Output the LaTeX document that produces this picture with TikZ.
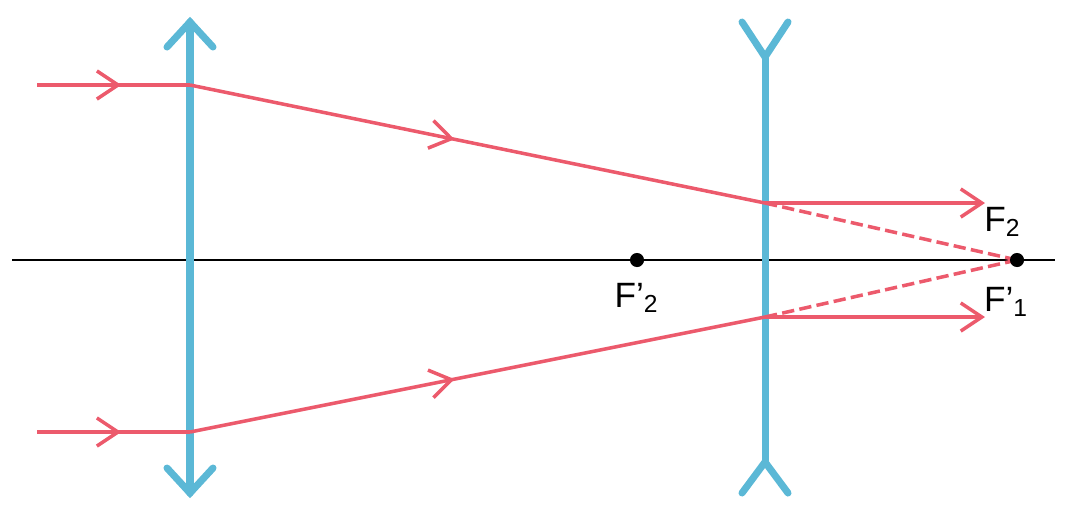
\documentclass[tikz,border=0pt]{standalone}
\usepackage{fontspec}
\setmainfont{Liberation Sans}
\usetikzlibrary{arrows.meta, decorations.markings}
\definecolor{lensblue}{HTML}{5BB8D6}
\definecolor{rayred}{HTML}{EC5A6C}
\tikzset{
x=0.01cm, y=-0.01cm,
lens/.style={lensblue, line width=2pt, line cap=round},
ray/.style={rayred, line width=1pt},
midarrow/.style={postaction={decorate, decoration={markings,
  mark=at position #1 with {\arrow{Straight Barb[length=6pt, width=8pt, line width=1pt]}}}}},
endarrow/.style={-{Straight Barb[length=6pt, width=8pt, line width=1pt]}},
virtual/.style={ray, dash pattern=on 3.5pt off 1.5pt},
focus/.style={circle, fill=black, inner sep=0pt, minimum size=4pt},
label/.style={font=\fontsize{10}{12}\selectfont},
}
\begin{document}
\begin{tikzpicture}
\useasboundingbox (0,0) rectangle (1068,517);
% optical axis
\coordinate (axL) at (12,260);
\coordinate (axR) at (1055,260);
\draw[line width=0.6pt] (axL) -- (axR);

% converging lens
\coordinate (c1t) at (190,22);
\coordinate (c1b) at (190,493);
\draw[lens] (c1t) -- (c1b);
\draw[lens] (167,47) -- (c1t) -- (213,47);
\draw[lens] (167,468) -- (c1b) -- (213,468);

% diverging lens
\coordinate (c2t) at (765,57);
\coordinate (c2b) at (765,462);
\draw[lens] (c2t) -- (c2b);
\draw[lens] (742,22) -- (c2t) -- (788,22);
\draw[lens] (742,493) -- (c2b) -- (788,493);

% rays
\coordinate (in1) at (37,85);
\coordinate (l1a) at (190,85);
\coordinate (l2a) at (765,203);
\coordinate (out1) at (985,203);
\coordinate (in2) at (37,432);
\coordinate (l1b) at (190,432);
\coordinate (l2b) at (765,317);
\coordinate (out2) at (985,317);
\coordinate (img) at (1017,260);

\draw[ray, midarrow=0.55] (in1) -- (l1a);
\draw[ray, midarrow=0.46] (l1a) -- (l2a);
\draw[ray, endarrow] (l2a) -- (out1);
\draw[virtual] (l2a) -- (img);

\draw[ray, midarrow=0.55] (in2) -- (l1b);
\draw[ray, midarrow=0.46] (l1b) -- (l2b);
\draw[ray, endarrow] (l2b) -- (out2);
\draw[virtual] (l2b) -- (img);

% focal points
\node[focus] (f2p) at (637,260) {};
\node[focus] (f1p) at (img) {};
\node[label, below=3pt] at (f2p) {F’\textsubscript{2}};
\node[label, above=1pt] at ([xshift=-4pt]f1p.north) {F\textsubscript{2}};
\node[label, below=2pt] at ([xshift=-3pt]f1p.south) {F’\textsubscript{1}};
\end{tikzpicture}
\end{document}
